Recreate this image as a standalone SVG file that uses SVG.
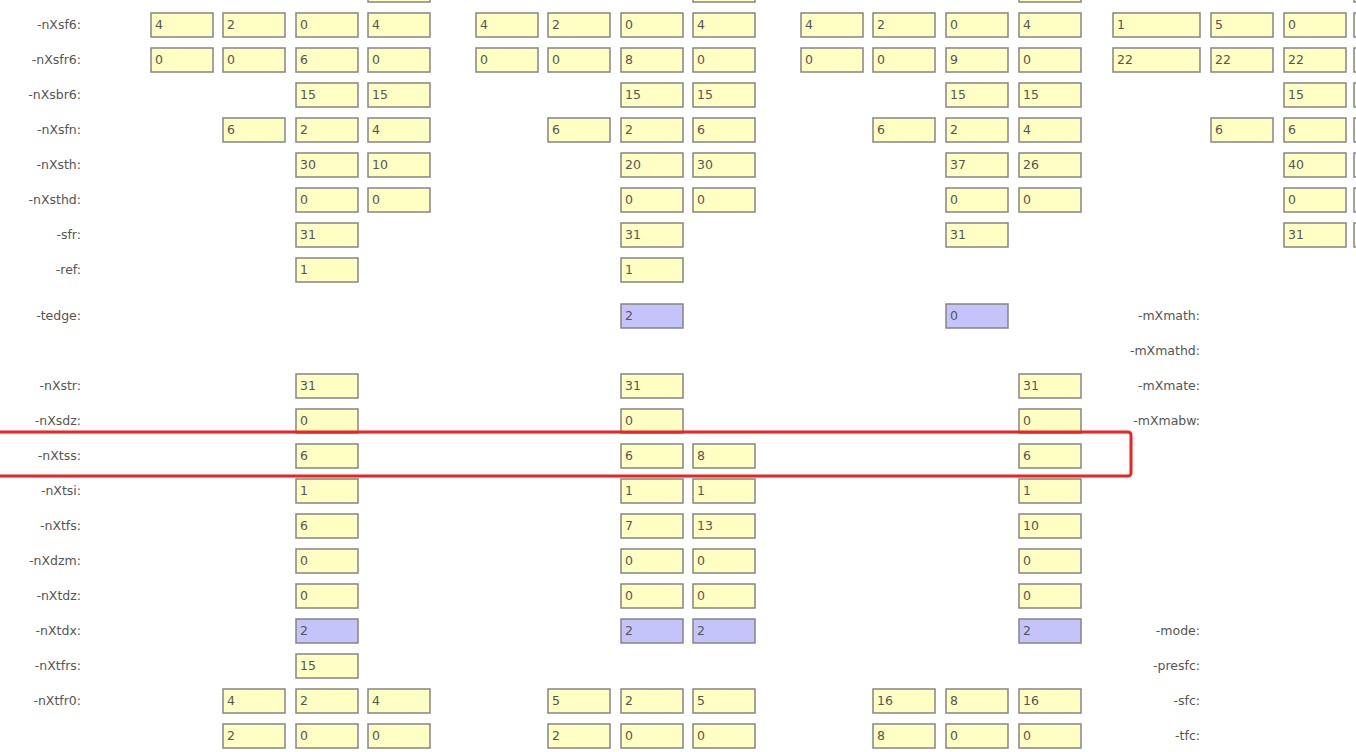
<svg xmlns="http://www.w3.org/2000/svg" width="1356" height="752" viewBox="0 0 1356 752">
<style>
.l{font-family:"DejaVu Sans",Verdana,sans-serif;font-size:12.5px;fill:#555;text-anchor:end}
.t{font-family:"DejaVu Sans",Verdana,sans-serif;font-size:12.5px;fill:#555}
.y{fill:#ffffc4;stroke:#858585;stroke-width:1.5}
.b{fill:#c4c4fa;stroke:#858585;stroke-width:1.5}
</style>
<rect width="1356" height="752" fill="#fff"/>
<g id="labels">
<text class="l" x="81" y="29">-nXsf6:</text>
<text class="l" x="81" y="64">-nXsfr6:</text>
<text class="l" x="81" y="99">-nXsbr6:</text>
<text class="l" x="81" y="134">-nXsfn:</text>
<text class="l" x="81" y="169">-nXsth:</text>
<text class="l" x="81" y="204">-nXsthd:</text>
<text class="l" x="81" y="239">-sfr:</text>
<text class="l" x="81" y="274">-ref:</text>
<text class="l" x="81" y="320">-tedge:</text>
<text class="l" x="81" y="390">-nXstr:</text>
<text class="l" x="81" y="425">-nXsdz:</text>
<text class="l" x="81" y="460">-nXtss:</text>
<text class="l" x="81" y="495">-nXtsi:</text>
<text class="l" x="81" y="530">-nXtfs:</text>
<text class="l" x="81" y="565">-nXdzm:</text>
<text class="l" x="81" y="600">-nXtdz:</text>
<text class="l" x="81" y="635">-nXtdx:</text>
<text class="l" x="81" y="670">-nXtfrs:</text>
<text class="l" x="81" y="705">-nXtfr0:</text>
<text class="l" x="1200" y="320">-mXmath:</text>
<text class="l" x="1200" y="355">-mXmathd:</text>
<text class="l" x="1200" y="390">-mXmate:</text>
<text class="l" x="1200" y="425">-mXmabw:</text>
<text class="l" x="1200" y="635">-mode:</text>
<text class="l" x="1200" y="670">-presfc:</text>
<text class="l" x="1200" y="705">-sfc:</text>
<text class="l" x="1200" y="740">-tfc:</text>
</g>
<g id="partial">
<rect class="y" x="368" y="-22" width="62" height="24"/>
<rect class="y" x="693" y="-22" width="62" height="24"/>
<rect class="y" x="1019" y="-22" width="62" height="24"/>
<rect class="y" x="1354" y="-22" width="62" height="24"/>
<rect class="y" x="1354" y="13" width="62" height="24"/>
<rect class="y" x="1354" y="48" width="62" height="24"/>
<rect class="y" x="1354" y="83" width="62" height="24"/>
<rect class="y" x="1354" y="118" width="62" height="24"/>
<rect class="y" x="1354" y="153" width="62" height="24"/>
<rect class="y" x="1354" y="188" width="62" height="24"/>
<rect class="y" x="1354" y="223" width="62" height="24"/>
</g>
<g id="boxes">
<!-- row sf6 y=13 -->
<rect class="y" x="151" y="13" width="62" height="24"/><text class="t" x="155" y="29">4</text>
<rect class="y" x="223" y="13" width="62" height="24"/><text class="t" x="227" y="29">2</text>
<rect class="y" x="296" y="13" width="62" height="24"/><text class="t" x="300" y="29">0</text>
<rect class="y" x="368" y="13" width="62" height="24"/><text class="t" x="372" y="29">4</text>
<rect class="y" x="476" y="13" width="62" height="24"/><text class="t" x="480" y="29">4</text>
<rect class="y" x="548" y="13" width="62" height="24"/><text class="t" x="552" y="29">2</text>
<rect class="y" x="621" y="13" width="62" height="24"/><text class="t" x="625" y="29">0</text>
<rect class="y" x="693" y="13" width="62" height="24"/><text class="t" x="697" y="29">4</text>
<rect class="y" x="801" y="13" width="62" height="24"/><text class="t" x="805" y="29">4</text>
<rect class="y" x="873" y="13" width="62" height="24"/><text class="t" x="877" y="29">2</text>
<rect class="y" x="946" y="13" width="62" height="24"/><text class="t" x="950" y="29">0</text>
<rect class="y" x="1019" y="13" width="62" height="24"/><text class="t" x="1023" y="29">4</text>
<rect class="y" x="1113" y="13" width="87" height="24"/><text class="t" x="1117" y="29">1</text>
<rect class="y" x="1211" y="13" width="62" height="24"/><text class="t" x="1215" y="29">5</text>
<rect class="y" x="1284" y="13" width="62" height="24"/><text class="t" x="1288" y="29">0</text>
<!-- sfr6 y=48 -->
<rect class="y" x="151" y="48" width="62" height="24"/><text class="t" x="155" y="64">0</text>
<rect class="y" x="223" y="48" width="62" height="24"/><text class="t" x="227" y="64">0</text>
<rect class="y" x="296" y="48" width="62" height="24"/><text class="t" x="300" y="64">6</text>
<rect class="y" x="368" y="48" width="62" height="24"/><text class="t" x="372" y="64">0</text>
<rect class="y" x="476" y="48" width="62" height="24"/><text class="t" x="480" y="64">0</text>
<rect class="y" x="548" y="48" width="62" height="24"/><text class="t" x="552" y="64">0</text>
<rect class="y" x="621" y="48" width="62" height="24"/><text class="t" x="625" y="64">8</text>
<rect class="y" x="693" y="48" width="62" height="24"/><text class="t" x="697" y="64">0</text>
<rect class="y" x="801" y="48" width="62" height="24"/><text class="t" x="805" y="64">0</text>
<rect class="y" x="873" y="48" width="62" height="24"/><text class="t" x="877" y="64">0</text>
<rect class="y" x="946" y="48" width="62" height="24"/><text class="t" x="950" y="64">9</text>
<rect class="y" x="1019" y="48" width="62" height="24"/><text class="t" x="1023" y="64">0</text>
<rect class="y" x="1113" y="48" width="87" height="24"/><text class="t" x="1117" y="64">22</text>
<rect class="y" x="1211" y="48" width="62" height="24"/><text class="t" x="1215" y="64">22</text>
<rect class="y" x="1284" y="48" width="62" height="24"/><text class="t" x="1288" y="64">22</text>
<!-- sbr6 y=83 -->
<rect class="y" x="296" y="83" width="62" height="24"/><text class="t" x="300" y="99">15</text>
<rect class="y" x="368" y="83" width="62" height="24"/><text class="t" x="372" y="99">15</text>
<rect class="y" x="621" y="83" width="62" height="24"/><text class="t" x="625" y="99">15</text>
<rect class="y" x="693" y="83" width="62" height="24"/><text class="t" x="697" y="99">15</text>
<rect class="y" x="946" y="83" width="62" height="24"/><text class="t" x="950" y="99">15</text>
<rect class="y" x="1019" y="83" width="62" height="24"/><text class="t" x="1023" y="99">15</text>
<rect class="y" x="1284" y="83" width="62" height="24"/><text class="t" x="1288" y="99">15</text>
<!-- sfn y=118 -->
<rect class="y" x="223" y="118" width="62" height="24"/><text class="t" x="227" y="134">6</text>
<rect class="y" x="296" y="118" width="62" height="24"/><text class="t" x="300" y="134">2</text>
<rect class="y" x="368" y="118" width="62" height="24"/><text class="t" x="372" y="134">4</text>
<rect class="y" x="548" y="118" width="62" height="24"/><text class="t" x="552" y="134">6</text>
<rect class="y" x="621" y="118" width="62" height="24"/><text class="t" x="625" y="134">2</text>
<rect class="y" x="693" y="118" width="62" height="24"/><text class="t" x="697" y="134">6</text>
<rect class="y" x="873" y="118" width="62" height="24"/><text class="t" x="877" y="134">6</text>
<rect class="y" x="946" y="118" width="62" height="24"/><text class="t" x="950" y="134">2</text>
<rect class="y" x="1019" y="118" width="62" height="24"/><text class="t" x="1023" y="134">4</text>
<rect class="y" x="1211" y="118" width="62" height="24"/><text class="t" x="1215" y="134">6</text>
<rect class="y" x="1284" y="118" width="62" height="24"/><text class="t" x="1288" y="134">6</text>
<!-- sth y=153 -->
<rect class="y" x="296" y="153" width="62" height="24"/><text class="t" x="300" y="169">30</text>
<rect class="y" x="368" y="153" width="62" height="24"/><text class="t" x="372" y="169">10</text>
<rect class="y" x="621" y="153" width="62" height="24"/><text class="t" x="625" y="169">20</text>
<rect class="y" x="693" y="153" width="62" height="24"/><text class="t" x="697" y="169">30</text>
<rect class="y" x="946" y="153" width="62" height="24"/><text class="t" x="950" y="169">37</text>
<rect class="y" x="1019" y="153" width="62" height="24"/><text class="t" x="1023" y="169">26</text>
<rect class="y" x="1284" y="153" width="62" height="24"/><text class="t" x="1288" y="169">40</text>
<!-- sthd y=188 -->
<rect class="y" x="296" y="188" width="62" height="24"/><text class="t" x="300" y="204">0</text>
<rect class="y" x="368" y="188" width="62" height="24"/><text class="t" x="372" y="204">0</text>
<rect class="y" x="621" y="188" width="62" height="24"/><text class="t" x="625" y="204">0</text>
<rect class="y" x="693" y="188" width="62" height="24"/><text class="t" x="697" y="204">0</text>
<rect class="y" x="946" y="188" width="62" height="24"/><text class="t" x="950" y="204">0</text>
<rect class="y" x="1019" y="188" width="62" height="24"/><text class="t" x="1023" y="204">0</text>
<rect class="y" x="1284" y="188" width="62" height="24"/><text class="t" x="1288" y="204">0</text>
<!-- sfr y=223 -->
<rect class="y" x="296" y="223" width="62" height="24"/><text class="t" x="300" y="239">31</text>
<rect class="y" x="621" y="223" width="62" height="24"/><text class="t" x="625" y="239">31</text>
<rect class="y" x="946" y="223" width="62" height="24"/><text class="t" x="950" y="239">31</text>
<rect class="y" x="1284" y="223" width="62" height="24"/><text class="t" x="1288" y="239">31</text>
<!-- ref y=258 -->
<rect class="y" x="296" y="258" width="62" height="24"/><text class="t" x="300" y="274">1</text>
<rect class="y" x="621" y="258" width="62" height="24"/><text class="t" x="625" y="274">1</text>
<!-- tedge y=304 -->
<rect class="b" x="621" y="304" width="62" height="24"/><text class="t" x="625" y="320">2</text>
<rect class="b" x="946" y="304" width="62" height="24"/><text class="t" x="950" y="320">0</text>
<!-- str y=374 -->
<rect class="y" x="296" y="374" width="62" height="24"/><text class="t" x="300" y="390">31</text>
<rect class="y" x="621" y="374" width="62" height="24"/><text class="t" x="625" y="390">31</text>
<rect class="y" x="1019" y="374" width="62" height="24"/><text class="t" x="1023" y="390">31</text>
<!-- sdz y=409 -->
<rect class="y" x="296" y="409" width="62" height="24"/><text class="t" x="300" y="425">0</text>
<rect class="y" x="621" y="409" width="62" height="24"/><text class="t" x="625" y="425">0</text>
<rect class="y" x="1019" y="409" width="62" height="24"/><text class="t" x="1023" y="425">0</text>
<!-- tss y=444 -->
<rect class="y" x="296" y="444" width="62" height="24"/><text class="t" x="300" y="460">6</text>
<rect class="y" x="621" y="444" width="62" height="24"/><text class="t" x="625" y="460">6</text>
<rect class="y" x="693" y="444" width="62" height="24"/><text class="t" x="697" y="460">8</text>
<rect class="y" x="1019" y="444" width="62" height="24"/><text class="t" x="1023" y="460">6</text>
<!-- tsi y=479 -->
<rect class="y" x="296" y="479" width="62" height="24"/><text class="t" x="300" y="495">1</text>
<rect class="y" x="621" y="479" width="62" height="24"/><text class="t" x="625" y="495">1</text>
<rect class="y" x="693" y="479" width="62" height="24"/><text class="t" x="697" y="495">1</text>
<rect class="y" x="1019" y="479" width="62" height="24"/><text class="t" x="1023" y="495">1</text>
<!-- tfs y=514 -->
<rect class="y" x="296" y="514" width="62" height="24"/><text class="t" x="300" y="530">6</text>
<rect class="y" x="621" y="514" width="62" height="24"/><text class="t" x="625" y="530">7</text>
<rect class="y" x="693" y="514" width="62" height="24"/><text class="t" x="697" y="530">13</text>
<rect class="y" x="1019" y="514" width="62" height="24"/><text class="t" x="1023" y="530">10</text>
<!-- dzm y=549 -->
<rect class="y" x="296" y="549" width="62" height="24"/><text class="t" x="300" y="565">0</text>
<rect class="y" x="621" y="549" width="62" height="24"/><text class="t" x="625" y="565">0</text>
<rect class="y" x="693" y="549" width="62" height="24"/><text class="t" x="697" y="565">0</text>
<rect class="y" x="1019" y="549" width="62" height="24"/><text class="t" x="1023" y="565">0</text>
<!-- tdz y=584 -->
<rect class="y" x="296" y="584" width="62" height="24"/><text class="t" x="300" y="600">0</text>
<rect class="y" x="621" y="584" width="62" height="24"/><text class="t" x="625" y="600">0</text>
<rect class="y" x="693" y="584" width="62" height="24"/><text class="t" x="697" y="600">0</text>
<rect class="y" x="1019" y="584" width="62" height="24"/><text class="t" x="1023" y="600">0</text>
<!-- tdx y=619 -->
<rect class="b" x="296" y="619" width="62" height="24"/><text class="t" x="300" y="635">2</text>
<rect class="b" x="621" y="619" width="62" height="24"/><text class="t" x="625" y="635">2</text>
<rect class="b" x="693" y="619" width="62" height="24"/><text class="t" x="697" y="635">2</text>
<rect class="b" x="1019" y="619" width="62" height="24"/><text class="t" x="1023" y="635">2</text>
<!-- tfrs y=654 -->
<rect class="y" x="296" y="654" width="62" height="24"/><text class="t" x="300" y="670">15</text>
<!-- tfr0 y=689 -->
<rect class="y" x="223" y="689" width="62" height="24"/><text class="t" x="227" y="705">4</text>
<rect class="y" x="296" y="689" width="62" height="24"/><text class="t" x="300" y="705">2</text>
<rect class="y" x="368" y="689" width="62" height="24"/><text class="t" x="372" y="705">4</text>
<rect class="y" x="548" y="689" width="62" height="24"/><text class="t" x="552" y="705">5</text>
<rect class="y" x="621" y="689" width="62" height="24"/><text class="t" x="625" y="705">2</text>
<rect class="y" x="693" y="689" width="62" height="24"/><text class="t" x="697" y="705">5</text>
<rect class="y" x="873" y="689" width="62" height="24"/><text class="t" x="877" y="705">16</text>
<rect class="y" x="946" y="689" width="62" height="24"/><text class="t" x="950" y="705">8</text>
<rect class="y" x="1019" y="689" width="62" height="24"/><text class="t" x="1023" y="705">16</text>
<!-- last y=724 -->
<rect class="y" x="223" y="724" width="62" height="24"/><text class="t" x="227" y="740">2</text>
<rect class="y" x="296" y="724" width="62" height="24"/><text class="t" x="300" y="740">0</text>
<rect class="y" x="368" y="724" width="62" height="24"/><text class="t" x="372" y="740">0</text>
<rect class="y" x="548" y="724" width="62" height="24"/><text class="t" x="552" y="740">2</text>
<rect class="y" x="621" y="724" width="62" height="24"/><text class="t" x="625" y="740">0</text>
<rect class="y" x="693" y="724" width="62" height="24"/><text class="t" x="697" y="740">0</text>
<rect class="y" x="873" y="724" width="62" height="24"/><text class="t" x="877" y="740">8</text>
<rect class="y" x="946" y="724" width="62" height="24"/><text class="t" x="950" y="740">0</text>
<rect class="y" x="1019" y="724" width="62" height="24"/><text class="t" x="1023" y="740">0</text>
</g>
<g id="highlight">
<rect x="-4" y="432" width="1135" height="44" rx="3" fill="none" stroke="#ee2222" stroke-width="3"/>
</g>
</svg>
